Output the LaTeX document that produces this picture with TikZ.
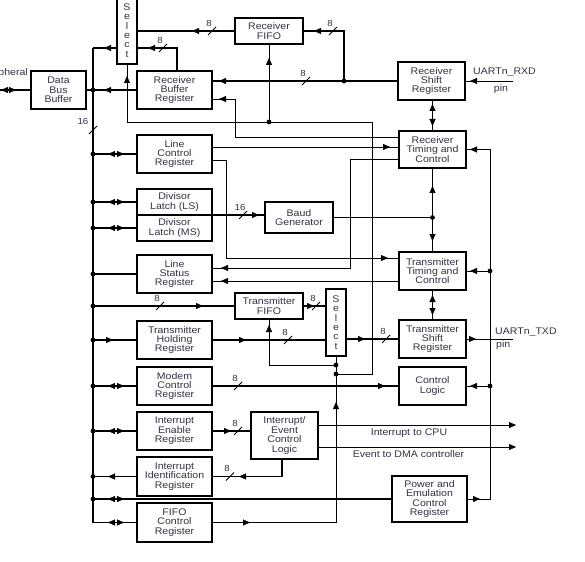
\documentclass[tikz,border=0pt]{standalone}
\usepackage{fontspec}
\setmainfont{Liberation Sans}[FakeStretch=1.1]
\usetikzlibrary{arrows.meta,decorations.markings}

\definecolor{txtgray}{RGB}{50,50,66}

\tikzset{
  hd/.tip={Triangle[length=7pt,width=6pt,line width=0.3pt]},
  block/.style={rectangle, draw=black, line width=1.2pt,
    inner sep=0pt, outer sep=0pt, align=center, text=txtgray,
    font=\fontsize{9.6}{9.4}\selectfont},
  leftreg/.style={block, minimum width=75pt, minimum height=38pt},
  rightblk/.style={block, minimum width=67pt, minimum height=38pt},
  fifo/.style={block, minimum width=68pt, minimum height=26pt},
  selbox/.style={block, minimum width=20pt, minimum height=67pt},
  lbl/.style={inner sep=0pt, text=txtgray, font=\fontsize{9.6}{9.4}\selectfont},
  bits/.style={inner sep=0pt, text=txtgray, font=\fontsize{8.8}{9}\selectfont},
  bus/.style={line width=1.8pt},
  ctl/.style={line width=0.8pt},
  junction/.style={circle, fill=black, inner sep=0pt, minimum size=4.8pt},
  arr/.style={postaction={decorate, decoration={markings,
      mark=at position #1 with {\arrow{hd}}}}},
  bidir/.style 2 args={postaction={decorate, decoration={markings,
      mark=at position #1 with {\arrowreversed{hd}},
      mark=at position #2 with {\arrow{hd}}}}},
  pics/buswd/.style={code={
      \draw[line width=0.8pt] (-4,4) -- (4,-4);
      \node[bits] at (-3,-8) {#1};}},
  pics/vbuswd/.style={code={
      \draw[line width=0.8pt] (-4,4) -- (4,-4);
      \node[bits] at (-10,-9) {#1};}},
}

\begin{document}
\begin{tikzpicture}[x=1pt, y=-1pt]
  \useasboundingbox (0,0) rectangle (585,561);

  % receiver side
  \node[selbox] (sel1) at (127,30.5) {S\\e\\l\\e\\c\\t};
  \node[fifo] (rfifo) at (269,31) {Receiver\\FIFO};
  \node[leftreg] (rbr) at (174.5,90) {Receiver\\Buffer\\Register};
  \node[rightblk] (rsr) at (431.5,81) {Receiver\\Shift\\Register};
  \node[rightblk, minimum height=37pt] (rtc) at (432.5,149.5) {Receiver\\Timing and\\Control};
  \node[block, minimum width=55pt, minimum height=38pt] (dbb) at (58.5,90) {Data\\Bus\\Buffer};

  % registers on the bus
  \node[leftreg] (lcr) at (174.5,154) {Line\\Control\\Register};
  \node[leftreg, minimum height=26pt] (dlls) at (174.5,202) {Divisor\\Latch (LS)};
  \node[leftreg, minimum height=26pt] (dlms) at (174.5,228) {Divisor\\Latch (MS)};
  \node[block, minimum width=68pt, minimum height=31pt] (baud) at (299,217.5) {Baud\\Generator};
  \node[leftreg] (lsr) at (174.5,274) {Line\\Status\\Register};
  \node[rightblk] (ttc) at (432.5,271) {Transmitter\\Timing and\\Control};

  % transmitter side
  \node[fifo] (tfifo) at (269,306) {Transmitter\\FIFO};
  \node[selbox] (sel2) at (336,322.5) {S\\e\\l\\e\\c\\t};
  \node[leftreg] (thr) at (174.5,340) {Transmitter\\Holding\\Register};
  \node[rightblk] (tsr) at (432.5,339) {Transmitter\\Shift\\Register};
  \node[leftreg] (mcr) at (174.5,386) {Modem\\Control\\Register};
  \node[rightblk] (clog) at (432.5,386) {Control\\Logic};

  % interrupts, fifo control, power
  \node[leftreg] (ier) at (174.5,431) {Interrupt\\Enable\\Register};
  \node[block, minimum width=67pt, minimum height=47pt] (iecl) at (284.5,435.5) {Interrupt/\\Event\\Control\\Logic};
  \node[leftreg, minimum height=39pt] (iir) at (174.5,476.5) {Interrupt\\Identification\\Register};
  \node[leftreg, minimum height=39pt] (fcr) at (174.5,522.5) {FIFO\\Control\\Register};
  \node[block, minimum width=75pt, minimum height=46pt] (pecr) at (429.5,499) {Power and\\Emulation\\Control\\Register};

  % outside texts
  \node[lbl, anchor=east] (periph) at (28,73) {pheral};
  \node[lbl, anchor=west] (rxdtxt) at (473,72) {UARTn\_RXD};
  \node[lbl] (rxdpintxt) at (501,89) {pin};
  \node[lbl, anchor=west] (txdtxt) at (495,332) {UARTn\_TXD};
  \node[lbl, anchor=west] (txdpintxt) at (496,345) {pin};
  \node[lbl] (cputxt) at (409,433) {Interrupt to CPU};
  \node[lbl] (dmatxt) at (408.5,454) {Event to DMA controller};

  % the internal data bus
  \coordinate (bustop) at (93,48);
  \coordinate (busbot) at (fcr.west -| bustop);
  \coordinate (periphend) at (-1,90);
  \draw[bus, bidir={2pt}{17pt}] (periphend) -- (dbb.west);
  \draw[bus, arr=13pt] (sel1.west |- bustop) -- (bustop);
  \draw[bus] (bustop) -- (busbot);
  \draw[bus, bidir={15pt}{31pt}] (busbot) -- (fcr.west);
  \foreach \reg in {dbb,lcr,dlls,dlms,lsr,tfifo,thr,mcr,ier,iir,pecr}
    \node[junction] (j\reg) at (\reg.west -| bustop) {};
  \foreach \reg in {lcr,dlls,dlms,mcr,ier,pecr}
    \draw[bus, bidir={15pt}{31pt}] (j\reg.center) -- (\reg.west);
  \draw[bus] (dbb.east) -- (jdbb.center);
  \draw[bus, arr=33pt] (rbr.west) -- (jdbb.center);
  \draw[bus] (jlsr.center) -- (lsr.west);
  \draw[bus, arr=-32pt] (jtfifo.center) -- (tfifo.west);
  \draw[bus, arr=-24pt] (jthr.center) -- (thr.west);
  \draw[bus, arr=-15pt] (iir.west) -- (jiir.center);
  \pic at (93,130) {vbuswd=16};
  \pic at (160,306) {buswd=8};

  % receive data path
  \node[junction] (jrsr) at (344,81) {};
  \draw[bus, arr=43pt] (rfifo.west) -- (rfifo.west -| sel1.east);
  \pic at (212,31) {buswd=8};
  \draw[bus, arr=-7pt] (rsr.west) -- (rsr.west -| rbr.east);
  \pic at (306,81) {buswd=8};
  \draw[bus, arr=-11pt] (jrsr.center) |- (rfifo.east);
  \pic at (333,31) {buswd=8};
  \draw[bus, arr=-11pt] ([xshift=2.5pt]rbr.north) |- (sel1.east |- bustop);
  \pic at (163,48) {buswd=8};

  % transmit data path
  \draw[bus, arr=-12pt] (tfifo.east) -- (tfifo.east -| sel2.west);
  \pic at (316,306) {buswd=8};
  \draw[bus, arr=-80pt] (thr.east) -- (thr.east -| sel2.west);
  \pic at (288,340) {buswd=8};
  \draw[bus, arr=-34pt] (sel2.east |- tsr.west) -- (tsr.west);
  \pic at (386,339) {buswd=8};
  \draw[bus, arr=-14pt] (mcr.east) -- (clog.west);
  \pic at (238,386) {buswd=8};
  \draw[bus, arr=-20pt] (ier.east) -- (ier.east -| iecl.west);
  \pic at (238,431) {buswd=8};
  \draw[bus, arr=-27pt] ([xshift=-2.5pt]iecl.south) |- (iir.east);
  \pic at (230,476.5) {buswd=8};
  \draw[bus, arr=-6pt] (dlls.south west) -- (dlls.south west -| baud.west);
  \pic at (243,215) {buswd=16};

  % fifo control to the selects and fifos
  \coordinate (selrow) at (372,122);
  \node[junction] (jrfifo) at (rfifo.south |- selrow) {};
  \node[junction] (jtf) at (336,365) {};
  \node[junction] (jsel) at (336,374) {};
  \draw[ctl, arr=38pt, arr=-46pt] (fcr.east) -| (sel2.south);
  \draw[ctl, arr=-6pt] (jtf.center) -| (tfifo.south);
  \draw[ctl, arr=-12pt] (jsel.center) -| (selrow) -| (sel1.south);
  \draw[ctl, arr=-14pt] (jrfifo.center) -- (rfifo.south);

  % timing and control lines
  \coordinate (rtcA) at ([yshift=12.5pt]rtc.west);
  \coordinate (rbrB) at ([yshift=-9pt]rbr.east);
  \draw[ctl, arr=-7pt] (rtcA) -| ([xshift=23pt]rbrB) -- (rbrB);
  \coordinate (lcrA) at ([yshift=7pt]lcr.east);
  \coordinate (lcrB) at ([yshift=-6pt]lcr.east);
  \coordinate (ttcA) at ([yshift=13pt]ttc.west);
  \draw[ctl, arr=-9pt] (lcrA) -- (lcrA -| rtc.west);
  \draw[ctl, arr=-11pt] (lcrB) -- ([xshift=14pt]lcrB) |- (ttcA);
  \coordinate (rtcC) at ([yshift=-9.5pt]rtc.west);
  \coordinate (lsrA) at ([yshift=6pt]lsr.east);
  \draw[ctl, arr=-9pt] (rtcC) -- ([xshift=-49pt]rtcC) |- (lsrA);
  \coordinate (ttcB) at ([yshift=-10pt]ttc.west);
  \draw[ctl, arr=-9pt] (ttcB) -- (ttcB -| lsr.east);

  % baud generator and shift registers
  \node[junction] (jbaud) at (baud.east -| rtc.south) {};
  \draw[ctl] (baud.east) -- (jbaud.center);
  \draw[ctl, arr=-18pt] (jbaud.center) -- (rtc.south);
  \draw[ctl, arr=-11pt] (jbaud.center) -- (ttc.north);
  \draw[ctl, bidir={4pt}{-5pt}] (rtc.north |- rsr.south) -- (rtc.north);
  \draw[ctl, bidir={5pt}{-5pt}] (ttc.south) -- (tsr.north);

  % pins
  \coordinate (rxdpin) at (513,81);
  \coordinate (txdpin) at (513,339);
  \draw[ctl, arr=-5pt] (rxdpin) -- (rsr.east);
  \draw[ctl, arr=10pt] (tsr.east) -- (txdpin);

  % power and emulation
  \node[junction] (jttc) at ([xshift=24pt]ttc.east) {};
  \node[junction] (jclog) at ([xshift=24pt]clog.east) {};
  \draw[ctl, arr=13pt, arr=-4pt] (pecr.east) -| ([xshift=24pt]rtc.east) -- (rtc.east);
  \draw[ctl, arr=-4pt] (jttc.center) -- (ttc.east);
  \draw[ctl, arr=-4pt] (jclog.center) -- (clog.east);

  % interrupt outputs
  \coordinate (outend) at (516,0);
  \coordinate (ieclA) at ([yshift=10.5pt]iecl.east);
  \coordinate (ieclB) at ([yshift=-11.5pt]iecl.east);
  \draw[ctl, -hd] (ieclA) -- (ieclA -| outend);
  \draw[ctl, -hd] (ieclB) -- (ieclB -| outend);

\end{tikzpicture}
\end{document}
